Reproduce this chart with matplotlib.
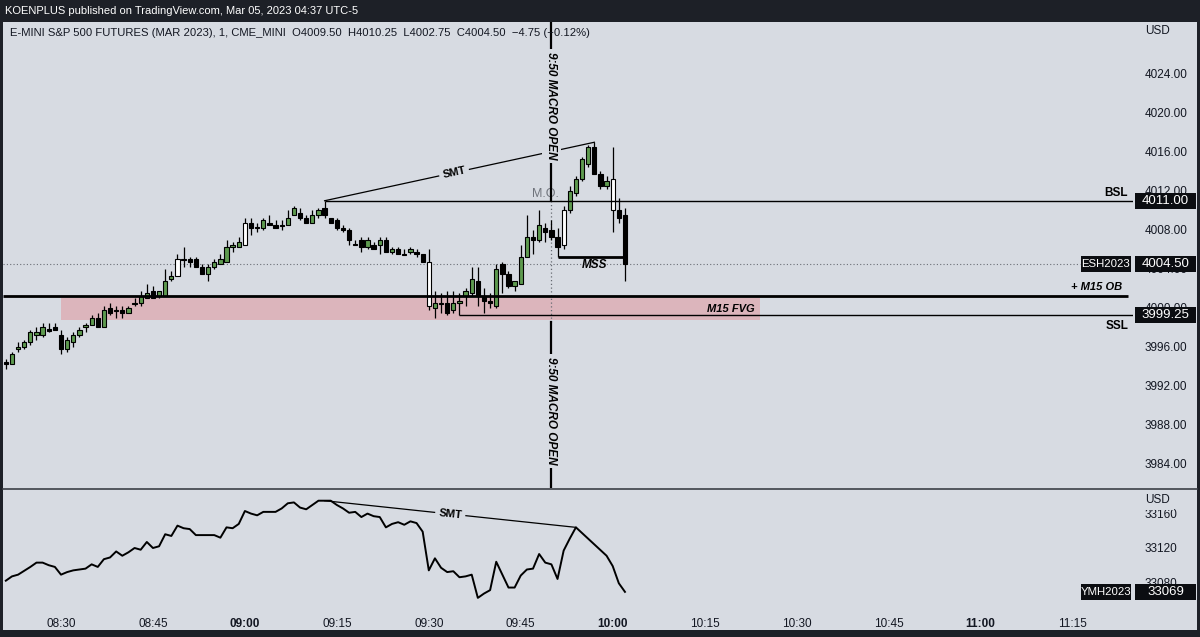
import math

import matplotlib
matplotlib.use("Agg")
import matplotlib.pyplot as plt
import numpy as np
from matplotlib.patches import Rectangle
from matplotlib.transforms import blended_transform_factory

plt.rcParams["font.family"] = ["Liberation Sans", "DejaVu Sans"]

# ---------------------------------------------------------------- data
# ES 1-minute candles; minutes counted from 08:30, first bar at 08:21
es_first_minute = -9
es_open = [
    3994.50, 3994.25, 3995.75, 3996.00, 3996.50, 3997.25, 3997.25, 3997.75, 3998.00, 3997.25,
    3995.75, 3996.50, 3997.25, 3998.00, 3998.25, 3999.00, 3998.00, 4000.00, 3999.75, 3999.75,
    3999.50, 4000.50, 4000.50, 4001.00, 4001.75, 4001.25, 4001.25, 4003.00, 4003.25, 4005.00,
    4005.00, 4005.00, 4004.25, 4003.50, 4004.25, 4004.50, 4004.75, 4006.25, 4006.25, 4006.50,
    4008.75, 4008.25, 4008.25, 4008.75, 4008.50, 4008.50, 4008.50, 4009.50, 4009.75, 4009.25,
    4008.75, 4009.50, 4010.25, 4009.25, 4009.00, 4008.25, 4008.00, 4006.50, 4007.00, 4006.25,
    4006.50, 4006.50, 4007.00, 4005.75, 4006.00, 4005.50, 4005.75, 4005.75, 4005.50, 4004.75,
    4000.00, 4000.50, 4000.50, 3999.75, 4000.50, 4001.25, 4001.50, 4002.75, 4001.25, 4000.75,
    4000.25, 4004.50, 4003.50, 4002.25, 4002.50, 4005.25, 4007.25, 4007.00, 4008.25, 4008.00,
    4007.25, 4006.50, 4010.00, 4011.75, 4013.25, 4014.75, 4016.50, 4013.75, 4012.50, 4013.25,
    4010.00, 4009.50,
]
es_high = [
    3994.75, 3995.50, 3996.50, 3996.75, 3997.75, 3998.00, 3998.50, 3998.50, 3998.50, 3997.75,
    3997.00, 3997.50, 3998.00, 3998.50, 3999.25, 3999.50, 4000.25, 4000.50, 4000.25, 4000.25,
    4000.25, 4001.00, 4001.75, 4002.50, 4002.25, 4001.75, 4004.00, 4003.75, 4005.50, 4006.25,
    4005.25, 4005.25, 4004.50, 4004.50, 4005.00, 4005.50, 4007.00, 4006.75, 4007.25, 4009.25,
    4009.25, 4008.75, 4009.25, 4009.50, 4009.00, 4009.00, 4010.00, 4010.50, 4010.25, 4009.50,
    4010.00, 4010.25, 4011.00, 4009.25, 4009.25, 4008.50, 4008.25, 4007.00, 4007.25, 4007.25,
    4006.75, 4007.25, 4007.25, 4006.25, 4006.25, 4006.00, 4006.25, 4006.00, 4005.50, 4006.00,
    4001.75, 4001.50, 4001.75, 4001.75, 4001.50, 4002.00, 4004.25, 4004.25, 4002.00, 4001.50,
    4004.50, 4004.75, 4003.75, 4002.75, 4006.50, 4009.50, 4008.00, 4010.00, 4008.75, 4009.00,
    4008.25, 4010.50, 4012.50, 4013.50, 4015.50, 4016.75, 4017.00, 4014.00, 4013.50, 4016.50,
    4011.25, 4010.25,
]
es_low = [
    3993.75, 3994.25, 3995.50, 3995.75, 3996.25, 3996.75, 3997.00, 3997.50, 3997.75, 3995.25,
    3995.50, 3996.00, 3997.00, 3997.50, 3998.25, 3998.00, 3998.00, 3999.25, 3999.00, 3999.00,
    3999.50, 4000.25, 4000.25, 4001.00, 4001.00, 4001.00, 4001.25, 4002.75, 4003.25, 4004.25,
    4004.25, 4004.25, 4003.50, 4002.75, 4004.00, 4004.50, 4004.75, 4005.75, 4006.25, 4006.50,
    4007.50, 4007.75, 4008.00, 4008.50, 4008.25, 4008.00, 4008.50, 4009.50, 4009.00, 4008.75,
    4008.75, 4009.25, 4009.25, 4008.75, 4008.00, 4007.75, 4006.50, 4006.50, 4005.75, 4006.00,
    4006.00, 4005.50, 4005.75, 4005.50, 4005.50, 4005.50, 4005.50, 4005.25, 4004.75, 3999.75,
    3999.00, 3999.50, 3999.25, 3999.50, 3999.25, 4000.25, 4001.25, 4000.25, 3999.50, 4000.00,
    4000.00, 4001.50, 4002.00, 4001.75, 4002.50, 4005.25, 4005.50, 4006.75, 4006.75, 4007.00,
    4005.25, 4006.00, 4009.75, 4011.50, 4013.00, 4014.50, 4013.75, 4012.25, 4012.25, 4007.75,
    4008.75, 4002.75,
]
es_close = [
    3994.25, 3995.25, 3996.00, 3996.50, 3997.50, 3997.50, 3998.00, 3997.75, 3997.75, 3995.75,
    3996.75, 3997.25, 3997.75, 3998.25, 3999.00, 3998.00, 3999.75, 3999.50, 3999.75, 3999.50,
    4000.00, 4000.50, 4001.25, 4001.50, 4001.00, 4001.75, 4002.75, 4003.25, 4005.00, 4005.00,
    4004.75, 4004.25, 4003.50, 4004.25, 4004.75, 4005.00, 4006.25, 4006.50, 4006.75, 4008.75,
    4008.25, 4008.25, 4009.00, 4008.50, 4008.25, 4008.50, 4009.25, 4010.25, 4009.25, 4008.75,
    4009.50, 4010.00, 4009.50, 4008.75, 4008.25, 4008.00, 4007.00, 4006.50, 4006.25, 4007.00,
    4006.00, 4007.00, 4005.75, 4006.00, 4005.50, 4005.50, 4006.00, 4005.50, 4004.75, 4000.25,
    4000.50, 4000.50, 3999.50, 4000.50, 4000.75, 4001.75, 4003.00, 4001.25, 4000.75, 4000.50,
    4004.00, 4003.50, 4002.25, 4002.75, 4005.25, 4007.25, 4007.00, 4008.50, 4007.75, 4007.25,
    4006.25, 4010.00, 4012.00, 4013.25, 4015.25, 4016.50, 4013.75, 4012.50, 4013.00, 4010.00,
    4009.25, 4004.50,
]
es_hollow = [19, 30, 60, 82, 90]  # minutes whose candle is drawn with an empty body

# YM close line (minutes from 08:30)
ym_minutes = [-9, -8, -7] + list(range(-5, 23)) + list(range(24, 85)) + [89, 90, 91, 92]
ym_close = [
    33082, 33087, 33089,
    33098, 33103, 33103, 33100, 33098, 33089,
    33092, 33094, 33095, 33096, 33101, 33098, 33107, 33109, 33116, 33111,
    33115, 33120, 33118, 33127, 33120, 33122, 33136, 33134, 33146, 33143,
    33142, 33135,
    33135, 33135, 33132, 33144, 33143, 33148, 33163,
    33160, 33158, 33162, 33162, 33162, 33166, 33172, 33173, 33167, 33165,
    33170, 33175, 33175, 33175, 33170, 33166, 33161, 33162, 33156, 33160,
    33157, 33156, 33144, 33148, 33150, 33147, 33151, 33149, 33139, 33094,
    33108, 33097, 33092, 33093, 33086, 33087, 33089, 33062, 33067, 33071,
    33104, 33089, 33074, 33074, 33088, 33095, 33096, 33113, 33103, 33101,
    33084, 33117, 33131, 33144,
    33111, 33099, 33079, 33069,
]

time_ticks = list(range(0, 166, 15))
time_labels = ["08:30", "08:45", "09:00", "09:15", "09:30", "09:45",
               "10:00", "10:15", "10:30", "10:45", "11:00", "11:15"]
bold_times = {"09:00", "10:00", "11:00"}
es_ticks = list(range(3984, 4025, 4))
ym_ticks = [33080, 33120, 33160]

bsl_level, bsl_from = 4011.00, 43
ssl_level, ssl_from = 3999.25, 65
ob_level = 4001.25
fvg_low, fvg_high, fvg_from, fvg_to = 3998.75, 4001.00, 0, 114
mss_level, mss_from, mss_to = 4005.25, 81, 92
es_last, ym_last = 4004.50, 33069
macro_open = 80
smt_es = ([43, 87], [4011.00, 4017.00])
smt_ym = ([43, 84], [33175, 33144])

header = "KOENPLUS published on TradingView.com, Mar 05, 2023 04:37 UTC-5"
legend = ("E-MINI S&P 500 FUTURES (MAR 2023), 1, CME_MINI  O4009.50  H4010.25  "
          "L4002.75  C4004.50  \u22124.75 (\u22120.12%)")

# ---------------------------------------------------------------- layout
W, H = 1200, 637
BG = "#d7dbe2"
FRAME = "#1d2027"
GREEN = "#5e9a4f"
INK = "#131722"
X0_PX, PX_PER_MIN = 61, 6.13            # 08:30 position and minute width
ES_REF, ES_REF_PX, ES_PX = 4012, 191, 9.75
YM_REF, YM_REF_PX, YM_PX = 33120, 548, 0.86
MAIN_TOP, MAIN_BOT = 22, 488
LOW_TOP, LOW_BOT = 490, 610
PLOT_L, PLOT_R = 3, 1133


def minute_at(px):
    return (px - X0_PX) / PX_PER_MIN


def es_at(py):
    return ES_REF - (py - ES_REF_PX) / ES_PX


def ym_at(py):
    return YM_REF - (py - YM_REF_PX) / YM_PX


fig = plt.figure(figsize=(W / 100, H / 100), dpi=100, facecolor=FRAME)
fig.add_artist(Rectangle((3 / W, 1 - 630 / H), 1194 / W, 608 / H,
                         transform=fig.transFigure, facecolor=BG, edgecolor="none", zorder=-5))

ax = fig.add_axes([PLOT_L / W, 1 - MAIN_BOT / H, (PLOT_R - PLOT_L) / W, (MAIN_BOT - MAIN_TOP) / H])
ax2 = fig.add_axes([PLOT_L / W, 1 - LOW_BOT / H, (PLOT_R - PLOT_L) / W, (LOW_BOT - LOW_TOP) / H])
xlim = (minute_at(PLOT_L), minute_at(PLOT_R))
for a in (ax, ax2):
    a.set_facecolor("none")
    a.set_xlim(*xlim)
    for s in a.spines.values():
        s.set_visible(False)
    a.yaxis.tick_right()
    a.tick_params(axis="y", length=0, pad=8.5, labelsize=8.5, labelcolor=INK)
ax.set_ylim(es_at(MAIN_BOT), es_at(MAIN_TOP))
ax2.set_ylim(ym_at(LOW_BOT), ym_at(LOW_TOP))
ax.set_xticks([])
ax.set_yticks(es_ticks)
ax.set_yticklabels([f"{v:.2f}" for v in es_ticks])
ax2.set_yticks(ym_ticks)
ax2.set_yticklabels([str(v) for v in ym_ticks])
ax2.set_xticks(time_ticks)
ax2.set_xticklabels(time_labels)
ax2.tick_params(axis="x", length=0, pad=6, labelsize=8.5, labelcolor=INK)
for lab in ax2.get_xticklabels():
    if lab.get_text() in bold_times:
        lab.set_fontweight("bold")

# ---------------------------------------------------------------- ES candles
o, h, l, c = (np.array(v) for v in (es_open, es_high, es_low, es_close))
minutes = np.arange(es_first_minute, es_first_minute + len(o))
colors = np.where(c > o, GREEN, "black").astype(object)
colors[np.isin(minutes, es_hollow)] = "white"
ax.add_patch(Rectangle((fvg_from, fvg_low), fvg_to - fvg_from, fvg_high - fvg_low,
                       facecolor="#dcb5bc", edgecolor="none", zorder=1))
ax.vlines(minutes, l, h, color="black", lw=0.9, zorder=3)
ax.bar(minutes, np.maximum(np.abs(c - o), 0.12), bottom=np.minimum(o, c) - np.where(c == o, 0.06, 0),
       width=0.7, color=colors, edgecolor="black", linewidth=0.8, zorder=4)

# levels
ax.hlines(es_last, xlim[0], minute_at(1080), colors="#6a6e76", linestyles=(0, (1, 2)), lw=0.8, zorder=2)
ax.hlines(ob_level, xlim[0], minute_at(1128), colors="black", lw=2.0, zorder=5)
ax.hlines(bsl_level, bsl_from, xlim[1], colors="black", lw=1.0, zorder=5)
ax.hlines(ssl_level, ssl_from, xlim[1], colors="black", lw=1.0, zorder=5)
ax.hlines(mss_level, mss_from, mss_to, colors="black", lw=2.0, zorder=5)

bold_it = dict(fontweight="bold", fontstyle="italic", color="black")
ax.text(minute_at(1128), es_at(193), "BSL", ha="right", va="center", fontsize=8.5, fontweight="bold", zorder=6)
ax.text(minute_at(1128), es_at(326), "SSL", ha="right", va="center", fontsize=8.5, fontweight="bold", zorder=6)
ax.text(minute_at(1122), es_at(287), "+ M15 OB", ha="right", va="center", fontsize=8, zorder=6, **bold_it)
ax.text(minute_at(755), (fvg_low + fvg_high) / 2, "M15 FVG", ha="right", va="center", fontsize=8, zorder=6, **bold_it)
ax.text((mss_from + mss_to) / 2 + 0.5, es_at(265), "MSS", ha="center", va="center", fontsize=8.5, zorder=6, **bold_it)
ax.text(minute_at(545), es_at(194), "M.O.", ha="center", va="center", fontsize=9, color="#70747c", zorder=6)


def smt(axis, pts, px_per_unit, frac):
    xs, ys = pts
    axis.plot(xs, ys, color="black", lw=0.9, zorder=5)
    ang = math.degrees(math.atan2((ys[1] - ys[0]) * px_per_unit, (xs[1] - xs[0]) * PX_PER_MIN))
    axis.text(xs[0] + frac * (xs[1] - xs[0]), ys[0] + frac * (ys[1] - ys[0]), "SMT",
              rotation=ang, rotation_mode="anchor", ha="center", va="center",
              fontsize=8, fontweight="bold", zorder=6,
              bbox=dict(facecolor=BG, edgecolor="none", pad=2.5))


smt(ax, smt_es, ES_PX, 0.48)

# 9:50 macro open marker
xt = ax.get_xaxis_transform()


def frac(py):
    return (MAIN_BOT - py) / (MAIN_BOT - MAIN_TOP)


ax.plot([macro_open] * 2, [frac(200), 1], transform=xt, color="black", lw=1.6, zorder=6)
ax.plot([macro_open] * 2, [frac(322), frac(200)], transform=xt, color="#666a72", lw=0.9,
        ls=(0, (1, 2)), zorder=2)
ax.plot([macro_open] * 2, [0, frac(322)], transform=xt, color="black", lw=1.6, zorder=6)
for py in (106, 411):
    ax.text(macro_open, frac(py), "9:50 MACRO OPEN", transform=xt, rotation=270,
            ha="center", va="center", fontsize=8.5, zorder=7,
            bbox=dict(facecolor=BG, edgecolor="none", pad=2.5), **bold_it)

# ---------------------------------------------------------------- YM line
ax2.plot(ym_minutes, ym_close, color="black", lw=1.4, zorder=4)
smt(ax2, smt_ym, YM_PX, 0.5)


# ---------------------------------------------------------------- price tags
def tag(axis, value, text, x0, x1, px_per_unit, fs=9.5):
    tr = blended_transform_factory(fig.transFigure, axis.transData)
    half = 8 / px_per_unit
    fig.add_artist(Rectangle((x0 / W, value - half), (x1 - x0) / W, 2 * half, transform=tr,
                             facecolor="#0b0d11", edgecolor="none", zorder=5))
    fig.text((x0 + x1) / 2 / W, value, text, transform=tr, ha="center", va="center",
             color="white", fontsize=fs, zorder=6)


tag(ax, bsl_level, f"{bsl_level:.2f}", 1135, 1196, ES_PX)
tag(ax, es_last, "ESH2023", 1081, 1131, ES_PX, fs=8.2)
tag(ax, es_last, f"{es_last:.2f}", 1135, 1196, ES_PX)
tag(ax, ssl_level, f"{ssl_level:.2f}", 1135, 1196, ES_PX)
tag(ax2, ym_last, "YMH2023", 1081, 1131, YM_PX, fs=8.2)
tag(ax2, ym_last, str(ym_last), 1135, 1196, YM_PX)

fig.text(1145 / W, 1 - 31 / H, "USD", fontsize=8.5, color=INK, va="center", zorder=6)
fig.text(1145 / W, 1 - 500 / H, "USD", fontsize=8.5, color=INK, va="center", zorder=6,
         bbox=dict(facecolor=BG, edgecolor="none", pad=3))

# panel separator and headers
fig.add_artist(plt.Line2D([3 / W, 1197 / W], [1 - 489 / H] * 2, transform=fig.transFigure,
                          color="#3c3f46", lw=1.2, zorder=3))
fig.text(5 / W, 1 - 11 / H, header, color="white", fontsize=8, va="center")
fig.text(10 / W, 1 - 33 / H, legend, color=INK, fontsize=8.1, va="center", zorder=8)

fig.savefig("out.png", dpi=100, facecolor=fig.get_facecolor())
